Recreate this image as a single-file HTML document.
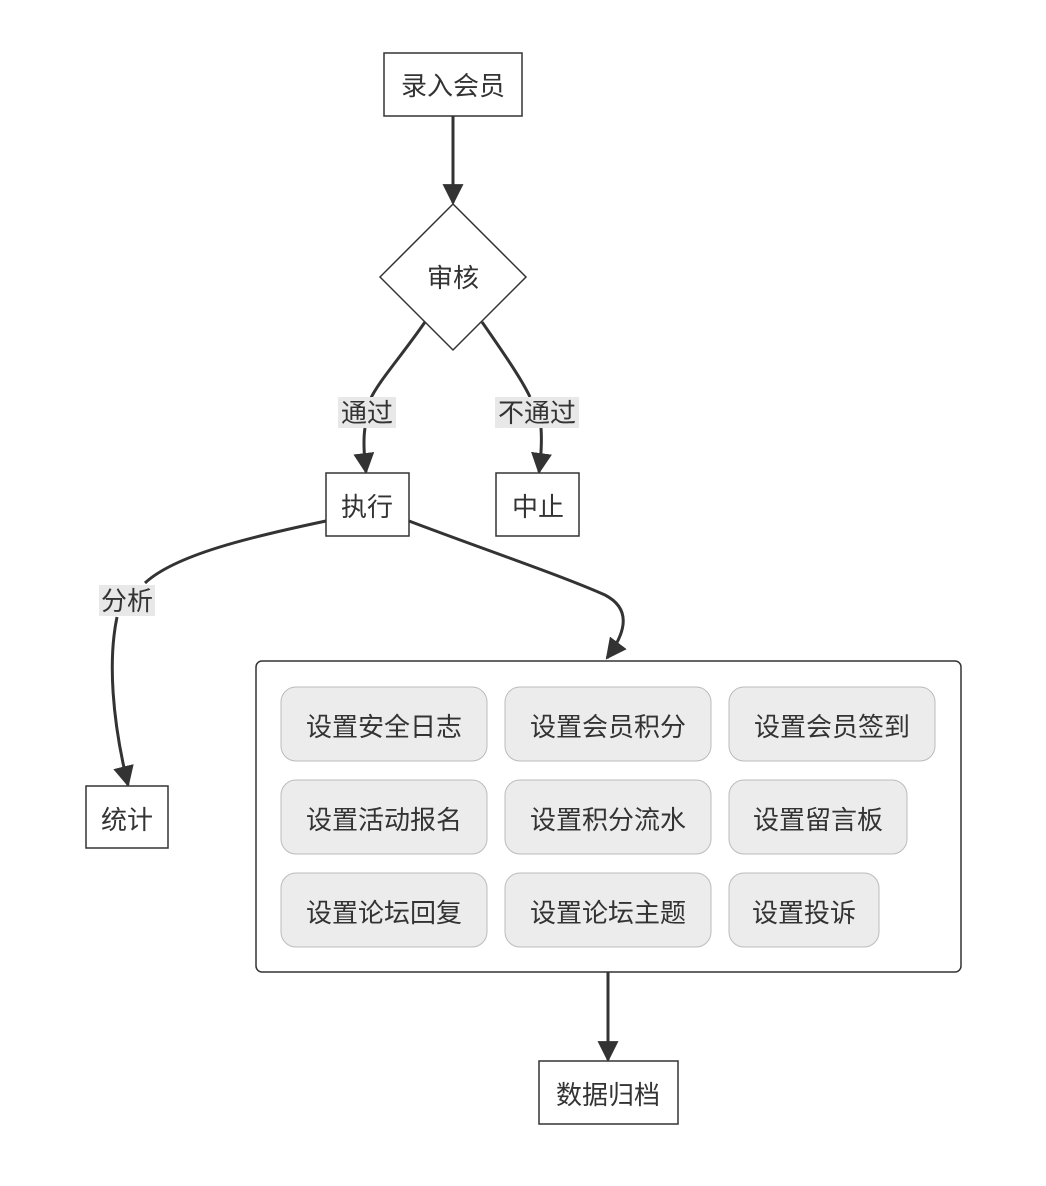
<!DOCTYPE html>
<html><head><meta charset="utf-8"><style>
html,body{margin:0;padding:0;background:#fff;}
svg text{font-family:"Liberation Sans","Noto Sans CJK SC",sans-serif;font-size:26px;fill:#333;}
</style></head><body>
<svg width="1046" height="1181" viewBox="0 0 1046 1181" xmlns="http://www.w3.org/2000/svg">
<defs>
<marker id="a" viewBox="0 0 10 10" refX="9" refY="5" markerWidth="7" markerHeight="7" markerUnits="strokeWidth" orient="auto">
<path d="M0,0 L10,5 L0,10 z" fill="#333"/></marker>
</defs>
<g fill="none" stroke="#333" stroke-width="3">
<path d="M453,116 L453,203" marker-end="url(#a)"/>
<path d="M425,322 C400,358 378,382 370,400" />
<path d="M365,428 C363,440 364,455 366,472" marker-end="url(#a)"/>
<path d="M482,322 C505,355 522,380 530,397"/>
<path d="M541,428 C542,442 541,457 539,472" marker-end="url(#a)"/>
<path d="M326,521 C250,537 175,555 145,583"/>
<path d="M117,617 C108,660 112,720 128,785" marker-end="url(#a)"/>
<path d="M409,521 C480,548 560,575 605,595 C630,608 628,630 607,658" marker-end="url(#a)"/>
<path d="M608,972 L608,1060" marker-end="url(#a)"/>
</g>
<g fill="#e8e8e8">
<rect x="338" y="397" width="58" height="31"/>
<rect x="495" y="397" width="84" height="31"/>
<rect x="99" y="585" width="56" height="31"/>
</g>
<g fill="#fff" stroke="#333" stroke-width="1.5">
<rect x="384" y="53" width="138" height="63"/>
<polygon points="453,204 526,277 453,350 380,277"/>
<rect x="326" y="473" width="83" height="63"/>
<rect x="496" y="473" width="83" height="63"/>
<rect x="86" y="786" width="82" height="62"/>
<rect x="539" y="1061" width="139" height="63"/>
<rect x="256" y="661" width="705" height="311" rx="6"/>
</g>
<g fill="#ececec" stroke="#bbb" stroke-width="1">
<rect x="281" y="687" width="206" height="74" rx="15"/>
<rect x="505" y="687" width="206" height="74" rx="15"/>
<rect x="729" y="687" width="206" height="74" rx="15"/>
<rect x="281" y="780" width="206" height="74" rx="15"/>
<rect x="505" y="780" width="206" height="74" rx="15"/>
<rect x="729" y="780" width="178" height="74" rx="15"/>
<rect x="281" y="873" width="206" height="74" rx="15"/>
<rect x="505" y="873" width="206" height="74" rx="15"/>
<rect x="729" y="873" width="150" height="74" rx="15"/>
</g>
<g text-anchor="middle">
<text x="453" y="95">录入会员</text>
<text x="453" y="287">审核</text>
<text x="367" y="422">通过</text>
<text x="537" y="422">不通过</text>
<text x="367" y="516">执行</text>
<text x="538" y="516">中止</text>
<text x="127" y="610">分析</text>
<text x="127" y="829">统计</text>
<text x="608" y="1104">数据归档</text>
<text x="384" y="736">设置安全日志</text>
<text x="608" y="736">设置会员积分</text>
<text x="832" y="736">设置会员签到</text>
<text x="384" y="829">设置活动报名</text>
<text x="608" y="829">设置积分流水</text>
<text x="818" y="829">设置留言板</text>
<text x="384" y="922">设置论坛回复</text>
<text x="608" y="922">设置论坛主题</text>
<text x="804" y="922">设置投诉</text>
</g>
</svg>
</body></html>
